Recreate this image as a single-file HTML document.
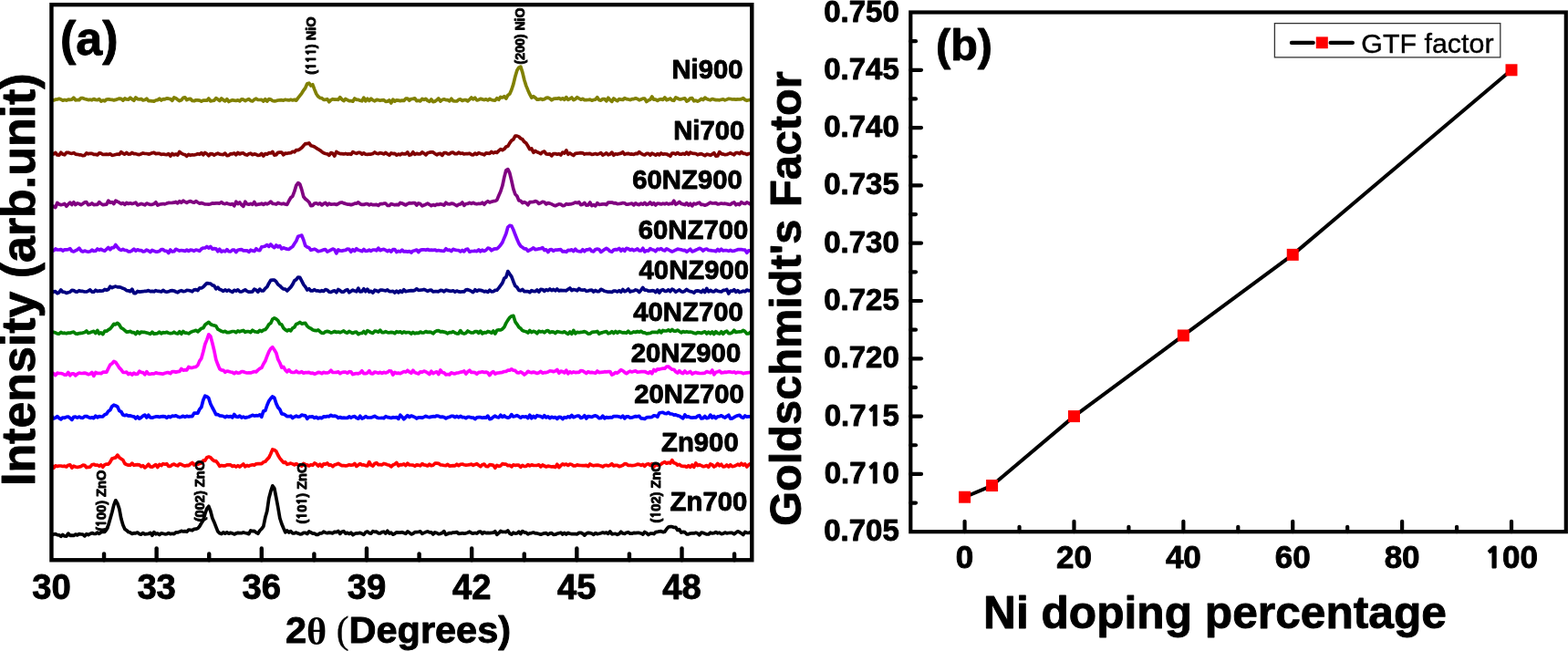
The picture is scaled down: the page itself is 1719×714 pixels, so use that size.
<!DOCTYPE html><html><head><meta charset="utf-8"><style>html,body{margin:0;padding:0;background:#fff;overflow:hidden;}svg{display:block;}text{font-family:"Liberation Sans",Arial,sans-serif;} text[font-weight=bold]{stroke:#000;stroke-width:0.9px;stroke-linejoin:round;}</style></head><body>
<svg width="1719" height="714" viewBox="0 0 1719 714">
<rect width="1719" height="714" fill="#fff"/>
<polyline fill="none" stroke="#808000" stroke-width="3.7" stroke-linejoin="round" stroke-linecap="round" points="56.8,109.3 58.8,110.0 60.8,109.2 62.8,109.0 64.8,108.3 66.8,109.0 68.8,110.2 70.8,109.5 72.8,110.1 74.8,109.2 76.8,109.3 78.8,109.1 80.8,107.2 82.8,109.8 84.8,109.5 86.8,109.6 88.8,107.5 90.8,107.6 92.8,108.5 94.8,108.9 96.8,109.6 98.8,109.2 100.8,109.8 102.8,108.5 104.8,109.5 106.8,109.6 108.8,108.6 110.8,111.1 112.8,110.0 114.8,110.8 116.8,109.0 118.8,108.8 120.8,109.1 122.8,109.3 124.8,109.9 126.8,109.4 128.8,108.7 130.8,108.1 132.8,108.4 134.8,110.1 136.8,108.0 138.8,109.0 140.8,109.1 142.8,107.2 144.8,108.9 146.8,110.2 148.8,107.0 150.8,108.7 152.8,109.0 154.8,108.4 156.8,109.9 158.8,109.5 160.8,108.2 162.8,110.6 164.8,110.6 166.8,110.8 168.8,111.2 170.8,110.0 172.8,109.7 174.8,108.1 176.8,110.0 178.8,108.7 180.8,108.8 182.8,107.9 184.8,108.2 186.8,108.6 188.8,110.3 190.8,107.0 192.8,107.7 194.8,109.4 196.8,110.6 198.8,109.8 200.8,107.3 202.8,106.8 204.8,109.7 206.8,108.7 208.8,108.4 210.8,110.5 212.8,110.7 214.8,109.8 216.8,109.9 218.8,110.1 220.8,111.2 222.8,110.2 224.8,110.1 226.8,110.2 228.8,108.0 230.8,110.9 232.8,110.5 234.8,110.1 236.8,107.6 238.8,109.0 240.8,110.5 242.8,107.9 244.8,109.6 246.8,110.9 248.8,108.6 250.8,111.5 252.8,110.4 254.8,109.7 256.8,110.1 258.8,110.4 260.8,109.8 262.8,110.8 264.8,108.9 266.8,109.2 268.8,110.6 270.8,109.5 272.8,108.6 274.8,110.4 276.8,111.0 278.8,109.1 280.8,108.2 282.8,109.5 284.8,109.5 286.8,109.4 288.8,111.1 290.8,108.7 292.8,111.1 294.8,108.6 296.8,109.1 298.8,110.5 300.8,110.9 302.8,110.6 304.8,110.0 306.8,109.8 308.8,109.7 310.8,110.1 312.8,109.3 314.8,109.7 316.8,110.0 318.8,109.3 320.8,109.9 322.8,109.3 324.8,110.2 326.8,107.4 328.8,104.9 330.8,102.3 332.8,99.1 334.8,96.3 336.8,91.8 338.8,91.2 340.8,94.0 342.8,92.8 344.8,98.1 346.8,103.0 348.8,105.8 350.8,107.4 352.8,107.7 354.8,109.4 356.8,109.3 358.8,108.7 360.8,111.7 362.8,109.6 364.8,108.7 366.8,109.1 368.8,109.0 370.8,109.3 372.8,106.7 374.8,109.0 376.8,110.6 378.8,108.5 380.8,109.7 382.8,110.7 384.8,110.6 386.8,111.2 388.8,108.0 390.8,109.3 392.8,109.3 394.8,110.3 396.8,110.8 398.8,107.1 400.8,110.8 402.8,108.3 404.8,110.5 406.8,108.3 408.8,109.9 410.8,110.8 412.8,109.4 414.8,109.7 416.8,110.3 418.8,109.8 420.8,109.7 422.8,111.4 424.8,111.1 426.8,109.9 428.8,113.0 430.8,109.1 432.8,111.1 434.8,109.8 436.8,110.1 438.8,110.6 440.8,110.1 442.8,110.4 444.8,108.2 446.8,108.1 448.8,110.2 450.8,108.5 452.8,108.4 454.8,107.9 456.8,110.7 458.8,110.2 460.8,110.9 462.8,108.5 464.8,109.4 466.8,108.4 468.8,110.4 470.8,111.4 472.8,109.0 474.8,111.6 476.8,111.1 478.8,109.8 480.8,107.9 482.8,111.1 484.8,109.4 486.8,108.8 488.8,109.6 490.8,109.7 492.8,110.8 494.8,108.3 496.8,110.6 498.8,111.0 500.8,111.0 502.8,109.3 504.8,108.8 506.8,110.5 508.8,109.6 510.8,109.6 512.8,110.9 514.8,109.1 516.8,107.0 518.8,108.9 520.8,107.3 522.8,110.0 524.8,109.4 526.8,108.4 528.8,108.9 530.8,109.6 532.8,108.8 534.8,109.9 536.8,108.4 538.8,109.5 540.8,110.0 542.8,110.1 544.8,107.8 546.8,109.3 548.8,106.4 550.8,107.0 552.8,105.7 554.8,108.1 556.8,104.4 558.8,103.0 560.8,98.5 562.8,92.4 564.8,84.0 566.8,77.2 568.8,74.1 570.8,73.1 572.8,79.4 574.8,87.8 576.8,94.1 578.8,98.9 580.8,103.4 582.8,107.2 584.8,105.6 586.8,107.2 588.8,109.1 590.8,109.1 592.8,108.4 594.8,109.3 596.8,108.7 598.8,107.4 600.8,107.1 602.8,108.1 604.8,109.8 606.8,108.4 608.8,108.1 610.8,108.2 612.8,107.5 614.8,108.9 616.8,107.8 618.8,109.4 620.8,106.6 622.8,109.3 624.8,108.3 626.8,107.0 628.8,109.7 630.8,108.6 632.8,106.7 634.8,108.0 636.8,109.2 638.8,108.4 640.8,109.7 642.8,109.6 644.8,109.5 646.8,109.2 648.8,110.2 650.8,109.5 652.8,109.2 654.8,106.7 656.8,109.7 658.8,110.1 660.8,108.6 662.8,108.5 664.8,110.9 666.8,107.3 668.8,109.6 670.8,111.4 672.8,108.0 674.8,109.5 676.8,110.7 678.8,108.6 680.8,109.2 682.8,109.5 684.8,107.7 686.8,108.6 688.8,109.0 690.8,109.6 692.8,108.7 694.8,108.6 696.8,107.8 698.8,108.5 700.8,109.8 702.8,109.0 704.8,108.1 706.8,108.1 708.8,111.5 710.8,109.9 712.8,109.3 714.8,106.0 716.8,109.2 718.8,109.1 720.8,110.3 722.8,109.1 724.8,108.7 726.8,109.4 728.8,106.9 730.8,109.8 732.8,109.1 734.8,108.0 736.8,109.9 738.8,110.3 740.8,107.0 742.8,107.8 744.8,108.9 746.8,108.8 748.8,108.3 750.8,107.8 752.8,111.0 754.8,110.0 756.8,107.8 758.8,107.7 760.8,110.8 762.8,110.2 764.8,111.1 766.8,110.1 768.8,108.4 770.8,109.5 772.8,107.1 774.8,108.5 776.8,109.2 778.8,109.8 780.8,108.5 782.8,109.1 784.8,109.6 786.8,109.5 788.8,109.8 790.8,109.3 792.8,108.8 794.8,109.9 796.8,109.1 798.8,108.3 800.8,108.5 802.8,109.0 804.8,108.9 806.8,109.1 808.8,108.9 810.8,109.0 812.8,108.6 814.8,107.7 816.8,109.5 818.8,110.3 820.8,109.8 822.8,109.4"/>
<polyline fill="none" stroke="#800000" stroke-width="3.7" stroke-linejoin="round" stroke-linecap="round" points="56.8,168.3 58.8,169.0 60.8,167.4 62.8,170.0 64.8,170.2 66.8,167.3 68.8,169.2 70.8,169.8 72.8,167.4 74.8,167.3 76.8,168.0 78.8,168.4 80.8,167.6 82.8,169.1 84.8,169.3 86.8,169.8 88.8,169.9 90.8,170.7 92.8,170.4 94.8,167.9 96.8,168.8 98.8,168.3 100.8,168.3 102.8,169.3 104.8,169.4 106.8,169.9 108.8,167.9 110.8,168.2 112.8,169.5 114.8,169.3 116.8,169.2 118.8,169.5 120.8,168.8 122.8,170.3 124.8,170.0 126.8,169.5 128.8,169.0 130.8,169.3 132.8,166.7 134.8,168.3 136.8,169.2 138.8,167.5 140.8,169.1 142.8,169.0 144.8,167.5 146.8,168.7 148.8,168.6 150.8,169.4 152.8,169.6 154.8,168.8 156.8,167.9 158.8,168.5 160.8,168.5 162.8,169.1 164.8,168.6 166.8,167.8 168.8,167.4 170.8,168.6 172.8,168.4 174.8,168.3 176.8,169.5 178.8,169.0 180.8,169.4 182.8,169.7 184.8,168.6 186.8,171.2 188.8,168.5 190.8,169.9 192.8,169.0 194.8,170.0 196.8,166.5 198.8,168.2 200.8,169.2 202.8,169.6 204.8,171.3 206.8,169.3 208.8,170.3 210.8,169.8 212.8,170.0 214.8,169.5 216.8,168.7 218.8,169.3 220.8,167.6 222.8,169.8 224.8,167.5 226.8,168.8 228.8,170.8 230.8,168.5 232.8,168.9 234.8,170.1 236.8,169.0 238.8,168.2 240.8,169.2 242.8,169.5 244.8,169.6 246.8,168.1 248.8,170.6 250.8,170.4 252.8,168.7 254.8,168.8 256.8,168.0 258.8,169.8 260.8,167.5 262.8,169.0 264.8,168.0 266.8,167.9 268.8,169.4 270.8,170.1 272.8,168.8 274.8,168.2 276.8,169.7 278.8,168.9 280.8,169.3 282.8,170.5 284.8,170.2 286.8,168.4 288.8,171.0 290.8,168.6 292.8,169.2 294.8,167.6 296.8,168.0 298.8,166.4 300.8,170.1 302.8,169.7 304.8,167.3 306.8,167.1 308.8,167.1 310.8,169.8 312.8,168.0 314.8,168.3 316.8,167.8 318.8,167.7 320.8,166.3 322.8,166.8 324.8,164.5 326.8,164.7 328.8,163.6 330.8,162.1 332.8,159.7 334.8,157.5 336.8,157.6 338.8,156.9 340.8,159.7 342.8,160.2 344.8,161.0 346.8,162.4 348.8,163.7 350.8,164.8 352.8,166.4 354.8,167.8 356.8,168.5 358.8,168.8 360.8,170.4 362.8,167.6 364.8,168.3 366.8,171.1 368.8,166.4 370.8,167.8 372.8,168.6 374.8,168.6 376.8,169.0 378.8,168.4 380.8,169.1 382.8,168.7 384.8,169.3 386.8,166.6 388.8,167.6 390.8,168.4 392.8,167.3 394.8,167.3 396.8,169.1 398.8,167.8 400.8,169.2 402.8,169.4 404.8,169.0 406.8,169.1 408.8,168.4 410.8,167.0 412.8,168.3 414.8,168.7 416.8,167.7 418.8,168.1 420.8,169.0 422.8,167.4 424.8,169.0 426.8,170.2 428.8,167.9 430.8,168.6 432.8,168.4 434.8,170.2 436.8,169.1 438.8,169.8 440.8,168.3 442.8,168.9 444.8,168.8 446.8,167.0 448.8,170.2 450.8,169.6 452.8,166.8 454.8,169.3 456.8,168.4 458.8,168.9 460.8,168.8 462.8,166.9 464.8,168.2 466.8,169.9 468.8,167.7 470.8,167.2 472.8,166.9 474.8,166.9 476.8,168.4 478.8,169.8 480.8,168.6 482.8,168.4 484.8,170.4 486.8,167.7 488.8,167.5 490.8,168.8 492.8,168.8 494.8,167.3 496.8,167.2 498.8,168.7 500.8,168.7 502.8,167.2 504.8,168.3 506.8,168.0 508.8,169.0 510.8,168.5 512.8,168.6 514.8,168.2 516.8,169.6 518.8,169.9 520.8,168.1 522.8,169.3 524.8,167.6 526.8,168.4 528.8,169.1 530.8,169.8 532.8,167.9 534.8,168.1 536.8,168.3 538.8,166.5 540.8,167.8 542.8,166.8 544.8,167.4 546.8,165.4 548.8,163.7 550.8,164.7 552.8,163.5 554.8,161.0 556.8,160.3 558.8,156.8 560.8,154.1 562.8,152.9 564.8,149.1 566.8,149.1 568.8,149.9 570.8,151.9 572.8,152.8 574.8,155.6 576.8,157.1 578.8,160.3 580.8,163.7 582.8,163.0 584.8,167.3 586.8,165.4 588.8,166.8 590.8,167.5 592.8,168.7 594.8,166.7 596.8,166.1 598.8,168.9 600.8,169.1 602.8,168.9 604.8,170.9 606.8,168.5 608.8,168.6 610.8,169.3 612.8,168.7 614.8,170.0 616.8,167.1 618.8,168.0 620.8,164.9 622.8,169.2 624.8,168.0 626.8,169.3 628.8,170.5 630.8,168.3 632.8,168.1 634.8,167.9 636.8,167.6 638.8,167.8 640.8,169.1 642.8,168.5 644.8,168.6 646.8,168.4 648.8,169.5 650.8,169.1 652.8,168.5 654.8,169.4 656.8,168.6 658.8,167.6 660.8,170.2 662.8,169.2 664.8,167.8 666.8,169.8 668.8,169.1 670.8,167.1 672.8,170.2 674.8,168.8 676.8,169.3 678.8,168.6 680.8,168.1 682.8,166.8 684.8,169.4 686.8,168.6 688.8,168.3 690.8,169.1 692.8,168.9 694.8,169.5 696.8,168.4 698.8,168.7 700.8,166.6 702.8,168.3 704.8,169.4 706.8,170.0 708.8,168.3 710.8,168.4 712.8,170.1 714.8,168.1 716.8,169.1 718.8,170.2 720.8,168.6 722.8,169.9 724.8,168.0 726.8,169.1 728.8,168.9 730.8,169.0 732.8,170.0 734.8,171.2 736.8,168.1 738.8,168.1 740.8,169.1 742.8,167.6 744.8,169.1 746.8,169.2 748.8,168.4 750.8,169.2 752.8,167.1 754.8,169.4 756.8,167.2 758.8,168.1 760.8,168.3 762.8,168.5 764.8,169.8 766.8,169.1 768.8,168.6 770.8,169.6 772.8,170.7 774.8,169.1 776.8,169.5 778.8,170.3 780.8,169.2 782.8,167.6 784.8,171.2 786.8,170.9 788.8,166.6 790.8,168.6 792.8,169.1 794.8,169.7 796.8,169.5 798.8,168.6 800.8,167.8 802.8,168.9 804.8,169.8 806.8,167.6 808.8,167.6 810.8,168.6 812.8,166.6 814.8,168.4 816.8,168.4 818.8,169.5 820.8,168.5 822.8,168.4"/>
<polyline fill="none" stroke="#800080" stroke-width="3.7" stroke-linejoin="round" stroke-linecap="round" points="56.8,225.5 58.8,226.5 60.8,227.5 62.8,222.4 64.8,224.0 66.8,224.7 68.8,224.2 70.8,223.5 72.8,226.2 74.8,224.0 76.8,222.1 78.8,224.5 80.8,221.8 82.8,224.6 84.8,222.9 86.8,223.6 88.8,224.7 90.8,223.5 92.8,221.9 94.8,221.7 96.8,224.7 98.8,224.3 100.8,222.9 102.8,224.6 104.8,224.4 106.8,224.5 108.8,221.6 110.8,223.5 112.8,224.6 114.8,224.3 116.8,224.1 118.8,220.1 120.8,222.1 122.8,221.7 124.8,223.5 126.8,220.1 128.8,221.2 130.8,222.2 132.8,223.6 134.8,222.6 136.8,224.3 138.8,222.5 140.8,223.5 142.8,222.8 144.8,223.6 146.8,222.9 148.8,222.1 150.8,224.9 152.8,224.2 154.8,223.4 156.8,224.1 158.8,224.9 160.8,223.0 162.8,223.8 164.8,224.5 166.8,224.4 168.8,223.6 170.8,221.8 172.8,225.1 174.8,224.2 176.8,223.8 178.8,223.5 180.8,223.9 182.8,223.1 184.8,222.4 186.8,222.5 188.8,222.4 190.8,222.2 192.8,221.4 194.8,222.9 196.8,220.6 198.8,222.2 200.8,220.2 202.8,221.3 204.8,222.3 206.8,221.2 208.8,220.5 210.8,221.7 212.8,222.2 214.8,220.6 216.8,222.0 218.8,223.1 220.8,222.6 222.8,223.3 224.8,224.0 226.8,224.0 228.8,224.2 230.8,223.8 232.8,222.9 234.8,223.1 236.8,222.8 238.8,222.9 240.8,223.1 242.8,221.7 244.8,223.2 246.8,223.6 248.8,222.8 250.8,223.8 252.8,224.3 254.8,223.6 256.8,225.9 258.8,221.2 260.8,223.6 262.8,222.0 264.8,224.7 266.8,226.4 268.8,221.2 270.8,223.8 272.8,224.2 274.8,223.4 276.8,224.3 278.8,221.5 280.8,224.7 282.8,224.2 284.8,223.9 286.8,223.2 288.8,224.4 290.8,223.1 292.8,223.8 294.8,222.9 296.8,221.1 298.8,223.3 300.8,223.5 302.8,224.1 304.8,222.4 306.8,223.2 308.8,223.8 310.8,223.2 312.8,224.0 314.8,224.3 316.8,220.2 318.8,216.8 320.8,215.2 322.8,209.9 324.8,203.3 326.8,200.6 328.8,202.1 330.8,208.1 332.8,215.8 334.8,218.2 336.8,219.7 338.8,221.7 340.8,225.7 342.8,225.4 344.8,223.0 346.8,222.9 348.8,223.9 350.8,222.9 352.8,224.9 354.8,223.4 356.8,222.4 358.8,224.9 360.8,223.1 362.8,224.1 364.8,224.0 366.8,223.8 368.8,224.5 370.8,223.5 372.8,222.3 374.8,222.0 376.8,222.9 378.8,223.4 380.8,224.1 382.8,224.1 384.8,224.6 386.8,224.1 388.8,223.2 390.8,223.2 392.8,221.8 394.8,223.7 396.8,224.4 398.8,224.4 400.8,223.7 402.8,223.7 404.8,224.8 406.8,223.9 408.8,224.7 410.8,224.6 412.8,224.3 414.8,225.4 416.8,223.6 418.8,223.7 420.8,223.2 422.8,223.1 424.8,225.4 426.8,225.5 428.8,223.6 430.8,224.2 432.8,224.8 434.8,224.4 436.8,224.8 438.8,222.4 440.8,223.0 442.8,224.0 444.8,225.0 446.8,223.6 448.8,222.6 450.8,223.0 452.8,222.7 454.8,222.5 456.8,225.0 458.8,222.9 460.8,223.6 462.8,225.9 464.8,225.0 466.8,224.2 468.8,223.2 470.8,224.3 472.8,225.6 474.8,224.6 476.8,225.3 478.8,224.1 480.8,224.4 482.8,223.7 484.8,224.3 486.8,225.1 488.8,222.3 490.8,223.7 492.8,224.0 494.8,223.1 496.8,223.4 498.8,224.5 500.8,225.7 502.8,224.3 504.8,223.9 506.8,222.0 508.8,225.4 510.8,223.5 512.8,223.4 514.8,222.3 516.8,223.3 518.8,222.3 520.8,223.4 522.8,223.8 524.8,223.3 526.8,223.5 528.8,222.2 530.8,224.3 532.8,222.0 534.8,220.7 536.8,222.0 538.8,221.3 540.8,220.7 542.8,220.5 544.8,219.4 546.8,214.5 548.8,210.0 550.8,203.8 552.8,194.4 554.8,186.8 556.8,185.6 558.8,189.9 560.8,198.1 562.8,207.2 564.8,213.0 566.8,215.0 568.8,219.9 570.8,220.3 572.8,222.5 574.8,221.6 576.8,222.6 578.8,224.8 580.8,221.7 582.8,221.7 584.8,221.5 586.8,220.6 588.8,221.2 590.8,223.4 592.8,222.5 594.8,221.3 596.8,221.7 598.8,223.9 600.8,222.6 602.8,223.1 604.8,223.9 606.8,225.0 608.8,225.7 610.8,224.8 612.8,223.9 614.8,224.0 616.8,225.6 618.8,225.3 620.8,223.6 622.8,224.2 624.8,223.9 626.8,223.6 628.8,222.9 630.8,222.0 632.8,222.6 634.8,221.7 636.8,224.6 638.8,224.1 640.8,222.4 642.8,225.1 644.8,224.8 646.8,222.0 648.8,225.7 650.8,224.7 652.8,225.9 654.8,222.6 656.8,224.4 658.8,224.2 660.8,223.9 662.8,223.8 664.8,224.6 666.8,222.0 668.8,222.2 670.8,222.0 672.8,222.8 674.8,222.7 676.8,223.6 678.8,223.5 680.8,223.2 682.8,222.5 684.8,222.8 686.8,224.2 688.8,224.1 690.8,223.5 692.8,223.1 694.8,224.9 696.8,222.8 698.8,224.1 700.8,224.6 702.8,223.1 704.8,224.2 706.8,222.4 708.8,224.5 710.8,223.8 712.8,222.0 714.8,224.3 716.8,222.8 718.8,225.0 720.8,223.0 722.8,223.4 724.8,223.9 726.8,223.2 728.8,223.8 730.8,222.9 732.8,224.0 734.8,223.3 736.8,223.4 738.8,220.3 740.8,224.2 742.8,223.1 744.8,221.4 746.8,223.4 748.8,223.9 750.8,224.6 752.8,222.6 754.8,225.1 756.8,223.3 758.8,225.8 760.8,223.2 762.8,223.9 764.8,222.8 766.8,222.2 768.8,224.5 770.8,224.4 772.8,225.2 774.8,224.6 776.8,223.3 778.8,222.1 780.8,223.0 782.8,222.9 784.8,222.6 786.8,223.9 788.8,223.6 790.8,223.0 792.8,223.5 794.8,223.2 796.8,223.6 798.8,224.1 800.8,224.3 802.8,222.7 804.8,221.9 806.8,224.8 808.8,223.5 810.8,224.5 812.8,221.7 814.8,223.0 816.8,223.4 818.8,221.9 820.8,222.9 822.8,224.1"/>
<polyline fill="none" stroke="#8000ff" stroke-width="3.7" stroke-linejoin="round" stroke-linecap="round" points="56.8,275.1 58.8,274.9 60.8,273.0 62.8,274.0 64.8,274.0 66.8,273.6 68.8,275.1 70.8,273.9 72.8,273.9 74.8,273.6 76.8,272.6 78.8,275.3 80.8,276.0 82.8,274.9 84.8,273.8 86.8,272.1 88.8,275.0 90.8,276.0 92.8,275.1 94.8,275.7 96.8,276.2 98.8,275.8 100.8,274.1 102.8,275.5 104.8,275.2 106.8,273.0 108.8,274.2 110.8,273.3 112.8,274.6 114.8,275.2 116.8,273.3 118.8,271.5 120.8,273.7 122.8,271.6 124.8,271.6 126.8,268.5 128.8,271.3 130.8,273.4 132.8,274.5 134.8,273.3 136.8,274.5 138.8,274.5 140.8,275.9 142.8,275.8 144.8,274.8 146.8,273.2 148.8,275.1 150.8,273.8 152.8,274.7 154.8,274.5 156.8,276.0 158.8,275.6 160.8,274.1 162.8,275.1 164.8,276.6 166.8,274.3 168.8,275.3 170.8,276.1 172.8,276.1 174.8,275.4 176.8,273.6 178.8,273.7 180.8,275.2 182.8,275.3 184.8,277.5 186.8,274.0 188.8,276.0 190.8,275.7 192.8,273.3 194.8,274.1 196.8,275.1 198.8,274.5 200.8,274.8 202.8,275.4 204.8,274.1 206.8,275.4 208.8,274.2 210.8,274.3 212.8,275.3 214.8,274.0 216.8,274.5 218.8,275.3 220.8,273.0 222.8,272.0 224.8,272.0 226.8,270.5 228.8,272.1 230.8,270.4 232.8,273.1 234.8,272.6 236.8,272.8 238.8,275.7 240.8,273.3 242.8,276.1 244.8,275.1 246.8,275.9 248.8,273.6 250.8,275.7 252.8,275.9 254.8,274.2 256.8,274.1 258.8,276.6 260.8,274.2 262.8,273.8 264.8,273.7 266.8,274.9 268.8,274.9 270.8,274.8 272.8,276.4 274.8,274.2 276.8,274.9 278.8,275.6 280.8,272.8 282.8,274.4 284.8,274.7 286.8,270.9 288.8,270.5 290.8,269.9 292.8,268.6 294.8,270.4 296.8,267.9 298.8,270.3 300.8,271.6 302.8,268.9 304.8,270.8 306.8,269.7 308.8,272.9 310.8,271.8 312.8,272.6 314.8,273.1 316.8,273.4 318.8,271.8 320.8,270.5 322.8,267.2 324.8,264.2 326.8,259.3 328.8,258.7 330.8,258.1 332.8,263.2 334.8,269.6 336.8,271.0 338.8,271.7 340.8,274.3 342.8,273.7 344.8,273.2 346.8,274.2 348.8,275.7 350.8,275.3 352.8,274.8 354.8,273.9 356.8,273.7 358.8,276.2 360.8,275.2 362.8,274.1 364.8,273.0 366.8,273.9 368.8,277.8 370.8,274.0 372.8,275.0 374.8,275.1 376.8,274.6 378.8,274.4 380.8,273.1 382.8,273.4 384.8,276.2 386.8,273.7 388.8,275.3 390.8,272.7 392.8,274.2 394.8,274.8 396.8,275.6 398.8,273.5 400.8,275.3 402.8,275.2 404.8,274.1 406.8,275.3 408.8,274.0 410.8,274.0 412.8,274.8 414.8,272.1 416.8,274.7 418.8,273.8 420.8,273.4 422.8,274.4 424.8,275.6 426.8,274.4 428.8,276.1 430.8,273.7 432.8,273.6 434.8,276.5 436.8,275.4 438.8,276.0 440.8,274.2 442.8,276.0 444.8,275.6 446.8,276.1 448.8,275.6 450.8,277.0 452.8,275.2 454.8,274.7 456.8,274.0 458.8,276.5 460.8,274.4 462.8,273.9 464.8,273.8 466.8,274.3 468.8,273.5 470.8,274.5 472.8,274.2 474.8,274.3 476.8,274.0 478.8,275.0 480.8,274.5 482.8,275.0 484.8,275.2 486.8,275.3 488.8,272.8 490.8,274.4 492.8,274.1 494.8,275.6 496.8,273.3 498.8,274.1 500.8,274.5 502.8,274.5 504.8,275.9 506.8,274.5 508.8,275.9 510.8,273.5 512.8,273.2 514.8,276.2 516.8,275.5 518.8,275.5 520.8,275.2 522.8,275.6 524.8,273.9 526.8,275.8 528.8,274.2 530.8,275.5 532.8,274.4 534.8,272.1 536.8,272.5 538.8,274.8 540.8,273.4 542.8,272.9 544.8,272.9 546.8,271.1 548.8,268.8 550.8,265.9 552.8,260.9 554.8,256.3 556.8,249.1 558.8,247.4 560.8,247.8 562.8,252.0 564.8,257.3 566.8,262.2 568.8,266.9 570.8,269.9 572.8,271.3 574.8,272.9 576.8,272.8 578.8,275.3 580.8,274.2 582.8,273.3 584.8,271.8 586.8,273.7 588.8,273.4 590.8,272.8 592.8,272.7 594.8,271.6 596.8,274.5 598.8,273.8 600.8,276.5 602.8,273.9 604.8,273.7 606.8,275.3 608.8,274.0 610.8,274.1 612.8,273.8 614.8,273.7 616.8,275.9 618.8,275.6 620.8,276.4 622.8,274.3 624.8,274.7 626.8,273.8 628.8,275.6 630.8,273.2 632.8,275.2 634.8,275.7 636.8,276.0 638.8,273.7 640.8,275.7 642.8,273.9 644.8,273.8 646.8,273.1 648.8,275.5 650.8,275.8 652.8,273.5 654.8,273.2 656.8,273.5 658.8,276.4 660.8,275.0 662.8,273.6 664.8,272.4 666.8,273.6 668.8,275.6 670.8,276.2 672.8,274.1 674.8,273.6 676.8,273.8 678.8,272.4 680.8,275.2 682.8,273.1 684.8,275.3 686.8,272.4 688.8,272.8 690.8,274.4 692.8,273.3 694.8,274.8 696.8,274.1 698.8,272.9 700.8,274.8 702.8,275.0 704.8,272.3 706.8,276.1 708.8,274.8 710.8,275.2 712.8,272.6 714.8,273.8 716.8,274.3 718.8,275.7 720.8,273.1 722.8,273.7 724.8,272.6 726.8,274.3 728.8,274.9 730.8,272.8 732.8,273.9 734.8,275.0 736.8,276.0 738.8,275.1 740.8,274.1 742.8,273.2 744.8,273.5 746.8,273.8 748.8,274.6 750.8,274.4 752.8,276.2 754.8,274.7 756.8,273.3 758.8,275.9 760.8,275.2 762.8,274.3 764.8,273.4 766.8,272.3 768.8,273.2 770.8,275.1 772.8,273.5 774.8,273.0 776.8,274.5 778.8,274.6 780.8,274.9 782.8,275.0 784.8,275.7 786.8,273.4 788.8,275.3 790.8,273.3 792.8,275.0 794.8,274.5 796.8,274.6 798.8,275.4 800.8,274.4 802.8,275.5 804.8,275.2 806.8,274.4 808.8,273.7 810.8,273.5 812.8,273.7 814.8,274.0 816.8,274.2 818.8,277.2 820.8,274.8 822.8,274.9"/>
<polyline fill="none" stroke="#000080" stroke-width="3.7" stroke-linejoin="round" stroke-linecap="round" points="56.8,321.4 58.8,319.8 60.8,319.7 62.8,321.7 64.8,320.8 66.8,317.9 68.8,320.2 70.8,320.4 72.8,321.4 74.8,320.8 76.8,320.3 78.8,318.3 80.8,318.6 82.8,319.8 84.8,320.1 86.8,318.7 88.8,319.4 90.8,319.4 92.8,320.0 94.8,320.0 96.8,319.1 98.8,317.9 100.8,320.1 102.8,320.2 104.8,318.2 106.8,319.5 108.8,318.9 110.8,319.2 112.8,318.9 114.8,317.4 116.8,318.2 118.8,317.5 120.8,314.3 122.8,315.7 124.8,314.7 126.8,314.1 128.8,314.9 130.8,314.9 132.8,315.3 134.8,316.3 136.8,317.0 138.8,318.6 140.8,318.8 142.8,319.7 144.8,317.1 146.8,321.6 148.8,321.6 150.8,319.4 152.8,320.1 154.8,319.9 156.8,319.7 158.8,319.3 160.8,319.3 162.8,318.6 164.8,319.6 166.8,319.4 168.8,319.8 170.8,318.6 172.8,319.4 174.8,319.4 176.8,320.0 178.8,318.3 180.8,319.7 182.8,320.2 184.8,319.8 186.8,318.8 188.8,318.7 190.8,319.0 192.8,320.0 194.8,320.8 196.8,319.2 198.8,318.7 200.8,319.7 202.8,319.5 204.8,318.4 206.8,318.5 208.8,319.1 210.8,319.8 212.8,317.8 214.8,317.6 216.8,318.5 218.8,315.9 220.8,316.0 222.8,314.7 224.8,312.6 226.8,310.5 228.8,310.9 230.8,311.0 232.8,312.9 234.8,313.3 236.8,316.8 238.8,315.1 240.8,317.5 242.8,318.1 244.8,319.3 246.8,317.9 248.8,319.1 250.8,318.0 252.8,319.4 254.8,320.4 256.8,318.3 258.8,319.1 260.8,317.8 262.8,319.8 264.8,320.0 266.8,318.9 268.8,317.8 270.8,319.4 272.8,320.2 274.8,320.1 276.8,319.8 278.8,317.1 280.8,318.1 282.8,320.1 284.8,317.1 286.8,319.0 288.8,318.8 290.8,316.3 292.8,314.6 294.8,310.7 296.8,307.4 298.8,307.1 300.8,307.1 302.8,308.9 304.8,312.0 306.8,313.4 308.8,315.5 310.8,317.0 312.8,317.1 314.8,319.0 316.8,316.9 318.8,314.9 320.8,311.9 322.8,307.9 324.8,306.6 326.8,304.0 328.8,304.3 330.8,308.1 332.8,312.1 334.8,314.6 336.8,318.0 338.8,316.7 340.8,318.9 342.8,318.8 344.8,317.7 346.8,319.0 348.8,318.9 350.8,319.6 352.8,318.7 354.8,319.5 356.8,317.5 358.8,318.2 360.8,320.1 362.8,320.4 364.8,319.4 366.8,318.9 368.8,320.7 370.8,317.5 372.8,318.7 374.8,320.2 376.8,320.1 378.8,318.4 380.8,317.6 382.8,320.8 384.8,319.4 386.8,318.2 388.8,319.1 390.8,319.8 392.8,316.2 394.8,320.0 396.8,319.6 398.8,316.8 400.8,319.7 402.8,317.1 404.8,320.1 406.8,319.3 408.8,321.1 410.8,318.2 412.8,318.8 414.8,319.9 416.8,318.1 418.8,318.1 420.8,318.5 422.8,318.9 424.8,317.9 426.8,319.6 428.8,319.7 430.8,319.3 432.8,321.0 434.8,319.1 436.8,320.8 438.8,319.0 440.8,320.4 442.8,317.7 444.8,319.7 446.8,319.3 448.8,318.9 450.8,318.7 452.8,318.9 454.8,318.4 456.8,316.8 458.8,318.3 460.8,318.2 462.8,318.0 464.8,317.4 466.8,318.3 468.8,319.3 470.8,318.3 472.8,318.1 474.8,320.0 476.8,319.7 478.8,319.6 480.8,319.8 482.8,318.4 484.8,318.6 486.8,319.8 488.8,318.1 490.8,318.6 492.8,319.2 494.8,319.3 496.8,318.8 498.8,320.1 500.8,319.0 502.8,319.9 504.8,320.2 506.8,319.8 508.8,319.8 510.8,317.9 512.8,317.7 514.8,318.4 516.8,319.5 518.8,320.5 520.8,317.8 522.8,319.3 524.8,318.2 526.8,318.4 528.8,318.9 530.8,319.9 532.8,319.4 534.8,320.4 536.8,318.2 538.8,319.9 540.8,319.7 542.8,318.4 544.8,318.2 546.8,315.9 548.8,313.2 550.8,310.4 552.8,305.3 554.8,303.9 556.8,297.6 558.8,300.6 560.8,303.4 562.8,308.7 564.8,313.6 566.8,315.0 568.8,318.4 570.8,318.8 572.8,317.4 574.8,319.7 576.8,319.6 578.8,319.5 580.8,320.7 582.8,318.6 584.8,319.5 586.8,319.7 588.8,318.0 590.8,320.1 592.8,317.4 594.8,317.5 596.8,319.3 598.8,317.6 600.8,318.6 602.8,317.0 604.8,318.6 606.8,317.4 608.8,318.8 610.8,317.0 612.8,319.0 614.8,318.3 616.8,318.6 618.8,318.5 620.8,318.8 622.8,317.3 624.8,316.0 626.8,318.5 628.8,317.5 630.8,318.0 632.8,318.8 634.8,316.5 636.8,317.9 638.8,318.2 640.8,317.8 642.8,319.3 644.8,319.0 646.8,318.3 648.8,318.2 650.8,320.0 652.8,318.5 654.8,319.7 656.8,319.6 658.8,317.3 660.8,318.2 662.8,319.3 664.8,319.7 666.8,320.2 668.8,320.2 670.8,320.4 672.8,319.0 674.8,319.1 676.8,320.0 678.8,318.7 680.8,320.2 682.8,317.5 684.8,319.7 686.8,318.9 688.8,317.0 690.8,320.0 692.8,319.3 694.8,319.0 696.8,317.9 698.8,318.5 700.8,320.5 702.8,318.1 704.8,315.5 706.8,318.2 708.8,318.0 710.8,319.2 712.8,319.1 714.8,318.7 716.8,318.9 718.8,320.6 720.8,317.9 722.8,321.1 724.8,318.5 726.8,317.7 728.8,319.4 730.8,319.3 732.8,317.8 734.8,319.7 736.8,317.2 738.8,318.2 740.8,320.3 742.8,319.0 744.8,317.9 746.8,319.7 748.8,320.1 750.8,319.2 752.8,317.4 754.8,318.9 756.8,319.7 758.8,320.0 760.8,321.2 762.8,319.1 764.8,318.9 766.8,319.3 768.8,320.5 770.8,318.3 772.8,320.5 774.8,316.4 776.8,319.9 778.8,318.4 780.8,319.6 782.8,319.9 784.8,318.1 786.8,319.2 788.8,319.6 790.8,319.9 792.8,318.4 794.8,318.4 796.8,317.5 798.8,322.0 800.8,319.2 802.8,319.2 804.8,317.8 806.8,320.2 808.8,318.7 810.8,320.6 812.8,320.0 814.8,319.2 816.8,319.8 818.8,318.0 820.8,318.8 822.8,318.5"/>
<polyline fill="none" stroke="#008000" stroke-width="3.7" stroke-linejoin="round" stroke-linecap="round" points="56.8,364.4 58.8,364.3 60.8,364.9 62.8,366.0 64.8,366.1 66.8,364.4 68.8,365.5 70.8,365.2 72.8,365.7 74.8,365.0 76.8,365.2 78.8,364.5 80.8,364.2 82.8,365.9 84.8,366.3 86.8,365.6 88.8,365.3 90.8,365.1 92.8,364.4 94.8,363.0 96.8,365.3 98.8,364.7 100.8,363.9 102.8,363.3 104.8,365.5 106.8,362.4 108.8,366.0 110.8,364.8 112.8,366.5 114.8,363.1 116.8,363.2 118.8,361.7 120.8,360.6 122.8,358.1 124.8,355.4 126.8,355.9 128.8,354.3 130.8,356.2 132.8,359.6 134.8,360.6 136.8,362.3 138.8,364.1 140.8,363.9 142.8,363.3 144.8,364.6 146.8,364.5 148.8,366.5 150.8,363.7 152.8,365.8 154.8,364.0 156.8,364.4 158.8,364.4 160.8,365.0 162.8,365.6 164.8,366.4 166.8,364.1 168.8,366.1 170.8,365.8 172.8,365.6 174.8,364.1 176.8,365.8 178.8,364.7 180.8,365.0 182.8,364.3 184.8,365.2 186.8,365.6 188.8,365.5 190.8,364.2 192.8,365.5 194.8,366.0 196.8,363.7 198.8,366.2 200.8,363.5 202.8,365.2 204.8,365.1 206.8,365.9 208.8,364.5 210.8,363.6 212.8,363.0 214.8,362.3 216.8,363.8 218.8,362.0 220.8,360.2 222.8,359.7 224.8,356.3 226.8,354.7 228.8,353.4 230.8,355.5 232.8,356.5 234.8,356.9 236.8,357.6 238.8,361.2 240.8,362.2 242.8,363.3 244.8,364.0 246.8,363.3 248.8,364.6 250.8,364.6 252.8,364.1 254.8,363.5 256.8,363.5 258.8,364.7 260.8,362.9 262.8,363.8 264.8,363.1 266.8,362.4 268.8,364.3 270.8,363.6 272.8,363.6 274.8,364.5 276.8,362.2 278.8,363.6 280.8,364.0 282.8,364.4 284.8,362.3 286.8,363.5 288.8,362.0 290.8,361.5 292.8,359.1 294.8,355.7 296.8,354.4 298.8,350.0 300.8,348.8 302.8,349.9 304.8,351.6 306.8,355.3 308.8,356.0 310.8,359.9 312.8,361.7 314.8,362.9 316.8,361.6 318.8,362.8 320.8,359.8 322.8,358.8 324.8,355.4 326.8,354.8 328.8,353.4 330.8,355.1 332.8,354.6 334.8,354.4 336.8,357.7 338.8,359.4 340.8,360.3 342.8,361.8 344.8,362.4 346.8,362.7 348.8,361.9 350.8,363.7 352.8,365.2 354.8,365.4 356.8,363.8 358.8,363.4 360.8,363.9 362.8,365.0 364.8,364.4 366.8,363.5 368.8,364.5 370.8,364.0 372.8,364.7 374.8,363.9 376.8,362.9 378.8,364.5 380.8,365.2 382.8,363.4 384.8,364.5 386.8,365.5 388.8,364.3 390.8,364.1 392.8,366.7 394.8,365.5 396.8,365.5 398.8,363.5 400.8,365.9 402.8,362.6 404.8,363.6 406.8,364.8 408.8,365.4 410.8,363.1 412.8,363.4 414.8,364.2 416.8,362.1 418.8,364.6 420.8,364.6 422.8,363.6 424.8,364.6 426.8,364.8 428.8,364.4 430.8,364.6 432.8,365.6 434.8,363.7 436.8,364.4 438.8,363.8 440.8,365.3 442.8,363.9 444.8,364.8 446.8,364.5 448.8,364.5 450.8,366.1 452.8,364.4 454.8,365.8 456.8,365.1 458.8,365.5 460.8,364.0 462.8,365.0 464.8,364.8 466.8,363.5 468.8,364.5 470.8,364.2 472.8,364.4 474.8,365.8 476.8,363.9 478.8,362.9 480.8,362.7 482.8,363.9 484.8,363.6 486.8,364.1 488.8,364.6 490.8,365.8 492.8,364.5 494.8,364.7 496.8,363.7 498.8,365.0 500.8,365.9 502.8,365.8 504.8,362.6 506.8,365.3 508.8,366.0 510.8,365.2 512.8,363.0 514.8,364.1 516.8,365.0 518.8,364.8 520.8,363.6 522.8,363.5 524.8,365.3 526.8,363.1 528.8,365.9 530.8,364.6 532.8,364.9 534.8,363.4 536.8,364.1 538.8,365.2 540.8,362.9 542.8,366.0 544.8,362.3 546.8,361.8 548.8,362.0 550.8,360.8 552.8,358.7 554.8,354.4 556.8,351.1 558.8,348.2 560.8,346.8 562.8,346.3 564.8,352.8 566.8,355.6 568.8,358.7 570.8,360.3 572.8,362.6 574.8,363.3 576.8,363.7 578.8,365.1 580.8,362.5 582.8,364.5 584.8,363.3 586.8,364.0 588.8,365.7 590.8,363.1 592.8,364.0 594.8,363.4 596.8,364.8 598.8,363.1 600.8,362.5 602.8,364.7 604.8,363.9 606.8,364.1 608.8,365.5 610.8,363.6 612.8,364.0 614.8,364.5 616.8,364.7 618.8,363.8 620.8,365.2 622.8,366.4 624.8,364.0 626.8,366.2 628.8,362.5 630.8,365.9 632.8,364.3 634.8,364.8 636.8,364.4 638.8,364.1 640.8,363.6 642.8,364.5 644.8,366.1 646.8,365.9 648.8,364.4 650.8,364.2 652.8,364.0 654.8,363.4 656.8,366.2 658.8,365.1 660.8,364.6 662.8,364.0 664.8,363.5 666.8,365.8 668.8,365.2 670.8,363.6 672.8,365.5 674.8,363.5 676.8,365.2 678.8,363.6 680.8,364.2 682.8,364.9 684.8,364.7 686.8,365.1 688.8,363.2 690.8,365.3 692.8,365.0 694.8,363.9 696.8,364.5 698.8,363.5 700.8,364.2 702.8,363.3 704.8,364.8 706.8,364.9 708.8,366.0 710.8,365.6 712.8,365.5 714.8,364.3 716.8,364.4 718.8,364.3 720.8,364.7 722.8,362.5 724.8,364.9 726.8,362.4 728.8,363.0 730.8,362.9 732.8,361.8 734.8,363.4 736.8,361.5 738.8,363.2 740.8,363.2 742.8,362.1 744.8,363.5 746.8,364.8 748.8,363.6 750.8,364.2 752.8,363.7 754.8,364.3 756.8,364.0 758.8,364.5 760.8,365.4 762.8,365.8 764.8,364.7 766.8,364.8 768.8,365.5 770.8,364.5 772.8,363.8 774.8,366.0 776.8,364.1 778.8,365.8 780.8,363.9 782.8,366.5 784.8,363.7 786.8,365.5 788.8,366.1 790.8,363.8 792.8,366.2 794.8,364.0 796.8,363.2 798.8,365.7 800.8,365.7 802.8,364.7 804.8,362.3 806.8,364.4 808.8,364.0 810.8,363.8 812.8,363.7 814.8,362.3 816.8,363.6 818.8,366.0 820.8,365.8 822.8,364.1"/>
<polyline fill="none" stroke="#ff00ff" stroke-width="3.7" stroke-linejoin="round" stroke-linecap="round" points="56.8,408.7 58.8,409.7 60.8,411.6 62.8,409.2 64.8,409.5 66.8,409.5 68.8,410.0 70.8,411.1 72.8,411.1 74.8,408.5 76.8,411.8 78.8,409.8 80.8,409.8 82.8,411.9 84.8,410.2 86.8,409.0 88.8,409.5 90.8,409.4 92.8,409.1 94.8,409.6 96.8,410.7 98.8,410.1 100.8,408.4 102.8,412.3 104.8,408.5 106.8,409.5 108.8,409.3 110.8,409.7 112.8,408.2 114.8,408.1 116.8,408.1 118.8,404.0 120.8,400.1 122.8,398.8 124.8,396.3 126.8,397.4 128.8,400.3 130.8,403.4 132.8,405.4 134.8,408.3 136.8,408.5 138.8,408.1 140.8,410.5 142.8,409.4 144.8,411.0 146.8,409.2 148.8,410.4 150.8,410.1 152.8,407.2 154.8,408.3 156.8,408.6 158.8,410.9 160.8,407.6 162.8,410.2 164.8,410.3 166.8,409.8 168.8,410.0 170.8,408.9 172.8,409.4 174.8,409.6 176.8,409.8 178.8,410.1 180.8,409.2 182.8,408.7 184.8,408.7 186.8,409.6 188.8,407.5 190.8,407.6 192.8,408.1 194.8,407.6 196.8,407.4 198.8,404.5 200.8,406.1 202.8,405.6 204.8,405.9 206.8,402.5 208.8,403.4 210.8,403.4 212.8,402.6 214.8,402.3 216.8,400.6 218.8,395.9 220.8,393.1 222.8,385.7 224.8,377.5 226.8,372.6 228.8,366.8 230.8,368.8 232.8,376.2 234.8,384.5 236.8,394.3 238.8,399.8 240.8,404.6 242.8,405.9 244.8,406.1 246.8,408.3 248.8,407.0 250.8,407.4 252.8,408.0 254.8,408.4 256.8,409.7 258.8,408.1 260.8,409.1 262.8,408.8 264.8,407.6 266.8,407.7 268.8,408.5 270.8,409.0 272.8,408.8 274.8,408.9 276.8,408.3 278.8,407.5 280.8,407.9 282.8,405.9 284.8,404.3 286.8,403.4 288.8,399.3 290.8,396.0 292.8,390.7 294.8,385.7 296.8,382.4 298.8,380.8 300.8,383.7 302.8,387.1 304.8,394.2 306.8,398.0 308.8,403.0 310.8,402.4 312.8,405.9 314.8,407.8 316.8,405.6 318.8,407.9 320.8,408.5 322.8,408.5 324.8,407.0 326.8,408.7 328.8,408.6 330.8,407.6 332.8,409.2 334.8,408.5 336.8,408.7 338.8,408.4 340.8,409.4 342.8,409.1 344.8,410.2 346.8,409.5 348.8,408.3 350.8,408.6 352.8,409.6 354.8,408.3 356.8,408.9 358.8,409.0 360.8,408.3 362.8,406.2 364.8,408.5 366.8,408.5 368.8,408.4 370.8,407.7 372.8,409.7 374.8,408.5 376.8,408.1 378.8,408.1 380.8,409.2 382.8,407.7 384.8,407.8 386.8,410.6 388.8,409.9 390.8,409.5 392.8,409.8 394.8,409.0 396.8,406.8 398.8,409.6 400.8,409.7 402.8,409.0 404.8,406.6 406.8,409.7 408.8,409.8 410.8,408.0 412.8,408.6 414.8,409.2 416.8,408.3 418.8,409.4 420.8,408.3 422.8,408.9 424.8,408.2 426.8,406.7 428.8,407.1 430.8,411.1 432.8,408.3 434.8,409.3 436.8,409.1 438.8,409.7 440.8,408.6 442.8,407.5 444.8,408.1 446.8,406.3 448.8,408.0 450.8,409.2 452.8,406.2 454.8,408.6 456.8,409.3 458.8,409.9 460.8,407.8 462.8,408.1 464.8,407.0 466.8,407.7 468.8,409.1 470.8,410.5 472.8,407.2 474.8,409.6 476.8,408.5 478.8,407.8 480.8,410.5 482.8,406.0 484.8,408.5 486.8,408.9 488.8,410.9 490.8,410.5 492.8,410.9 494.8,408.8 496.8,409.6 498.8,409.9 500.8,409.0 502.8,408.8 504.8,408.2 506.8,407.9 508.8,407.0 510.8,410.1 512.8,407.7 514.8,406.2 516.8,408.5 518.8,408.3 520.8,408.6 522.8,410.2 524.8,408.4 526.8,408.3 528.8,407.8 530.8,408.5 532.8,408.1 534.8,408.8 536.8,411.6 538.8,408.9 540.8,407.6 542.8,410.2 544.8,409.1 546.8,408.9 548.8,408.6 550.8,408.3 552.8,407.5 554.8,407.4 556.8,406.2 558.8,406.2 560.8,404.8 562.8,406.2 564.8,406.4 566.8,408.6 568.8,408.9 570.8,407.9 572.8,409.1 574.8,411.0 576.8,409.6 578.8,407.3 580.8,408.2 582.8,408.8 584.8,408.1 586.8,408.6 588.8,409.5 590.8,408.7 592.8,407.4 594.8,409.2 596.8,408.5 598.8,408.6 600.8,407.9 602.8,406.9 604.8,407.0 606.8,407.7 608.8,406.9 610.8,405.4 612.8,409.2 614.8,407.1 616.8,407.6 618.8,408.9 620.8,406.1 622.8,409.8 624.8,407.7 626.8,409.0 628.8,407.9 630.8,408.6 632.8,408.4 634.8,408.3 636.8,406.5 638.8,406.8 640.8,408.1 642.8,409.5 644.8,407.6 646.8,408.7 648.8,408.4 650.8,408.8 652.8,409.3 654.8,407.0 656.8,408.7 658.8,408.3 660.8,408.2 662.8,407.7 664.8,407.8 666.8,407.6 668.8,407.5 670.8,411.0 672.8,410.2 674.8,408.5 676.8,409.2 678.8,407.5 680.8,405.7 682.8,406.6 684.8,408.4 686.8,409.7 688.8,408.2 690.8,407.2 692.8,407.9 694.8,407.3 696.8,406.9 698.8,408.1 700.8,408.0 702.8,407.7 704.8,407.6 706.8,407.5 708.8,408.5 710.8,409.4 712.8,407.6 714.8,409.7 716.8,405.5 718.8,406.9 720.8,404.9 722.8,405.1 724.8,404.5 726.8,404.1 728.8,404.1 730.8,402.2 732.8,402.0 734.8,403.8 736.8,405.2 738.8,405.3 740.8,407.7 742.8,409.1 744.8,406.6 746.8,408.7 748.8,409.6 750.8,406.9 752.8,409.1 754.8,408.7 756.8,407.5 758.8,410.2 760.8,409.1 762.8,408.4 764.8,409.2 766.8,409.4 768.8,409.5 770.8,409.3 772.8,409.1 774.8,407.6 776.8,408.3 778.8,408.8 780.8,406.0 782.8,410.8 784.8,408.3 786.8,407.7 788.8,406.9 790.8,408.9 792.8,408.7 794.8,408.1 796.8,408.3 798.8,407.8 800.8,407.9 802.8,408.5 804.8,407.9 806.8,409.1 808.8,408.3 810.8,408.5 812.8,408.7 814.8,409.7 816.8,409.1 818.8,408.9 820.8,408.7 822.8,408.2"/>
<polyline fill="none" stroke="#0000ff" stroke-width="3.7" stroke-linejoin="round" stroke-linecap="round" points="56.8,456.5 58.8,459.1 60.8,458.3 62.8,456.7 64.8,458.6 66.8,459.8 68.8,458.0 70.8,458.3 72.8,457.4 74.8,457.0 76.8,458.5 78.8,460.4 80.8,457.3 82.8,457.2 84.8,458.1 86.8,457.1 88.8,458.2 90.8,458.3 92.8,456.6 94.8,456.5 96.8,457.5 98.8,458.4 100.8,457.8 102.8,458.7 104.8,456.1 106.8,457.8 108.8,456.6 110.8,457.0 112.8,456.8 114.8,454.7 116.8,454.0 118.8,451.0 120.8,449.7 122.8,445.7 124.8,444.2 126.8,444.9 128.8,446.1 130.8,450.6 132.8,451.5 134.8,455.0 136.8,455.7 138.8,455.1 140.8,456.2 142.8,455.9 144.8,456.6 146.8,456.8 148.8,459.0 150.8,457.0 152.8,459.1 154.8,457.9 156.8,456.2 158.8,455.1 160.8,458.0 162.8,455.3 164.8,457.9 166.8,458.2 168.8,457.5 170.8,456.9 172.8,456.9 174.8,457.4 176.8,456.8 178.8,456.6 180.8,456.8 182.8,458.3 184.8,456.6 186.8,457.6 188.8,456.2 190.8,456.5 192.8,455.8 194.8,456.9 196.8,457.6 198.8,457.2 200.8,456.3 202.8,457.3 204.8,456.3 206.8,456.9 208.8,456.6 210.8,456.6 212.8,453.1 214.8,453.2 216.8,453.1 218.8,448.9 220.8,446.5 222.8,438.8 224.8,434.2 226.8,434.9 228.8,436.7 230.8,443.0 232.8,447.0 234.8,450.7 236.8,454.6 238.8,454.7 240.8,455.8 242.8,456.1 244.8,456.5 246.8,457.6 248.8,456.4 250.8,457.2 252.8,456.5 254.8,457.9 256.8,454.5 258.8,457.0 260.8,457.4 262.8,456.1 264.8,458.0 266.8,457.1 268.8,458.1 270.8,457.6 272.8,457.2 274.8,456.3 276.8,455.3 278.8,456.1 280.8,455.7 282.8,456.0 284.8,454.8 286.8,457.3 288.8,450.9 290.8,450.5 292.8,444.5 294.8,439.8 296.8,437.0 298.8,434.9 300.8,436.3 302.8,442.6 304.8,446.9 306.8,449.0 308.8,453.8 310.8,454.1 312.8,455.2 314.8,456.7 316.8,456.7 318.8,456.2 320.8,458.6 322.8,457.1 324.8,456.2 326.8,457.1 328.8,456.9 330.8,455.0 332.8,455.7 334.8,455.9 336.8,459.3 338.8,457.2 340.8,457.1 342.8,456.9 344.8,458.4 346.8,457.4 348.8,458.9 350.8,458.0 352.8,458.7 354.8,456.9 356.8,457.2 358.8,456.5 360.8,456.8 362.8,455.3 364.8,456.5 366.8,456.2 368.8,456.5 370.8,458.4 372.8,457.5 374.8,458.5 376.8,458.2 378.8,458.3 380.8,458.5 382.8,456.8 384.8,458.1 386.8,457.0 388.8,456.7 390.8,458.4 392.8,459.2 394.8,456.3 396.8,459.0 398.8,458.2 400.8,456.7 402.8,457.8 404.8,458.0 406.8,458.0 408.8,457.3 410.8,456.4 412.8,457.7 414.8,458.5 416.8,458.5 418.8,458.3 420.8,458.7 422.8,456.7 424.8,457.6 426.8,457.9 428.8,458.5 430.8,457.7 432.8,458.0 434.8,457.6 436.8,459.4 438.8,455.2 440.8,457.3 442.8,459.7 444.8,457.6 446.8,455.6 448.8,457.5 450.8,456.0 452.8,456.8 454.8,457.6 456.8,459.0 458.8,457.8 460.8,457.9 462.8,458.3 464.8,457.4 466.8,456.4 468.8,457.2 470.8,457.6 472.8,457.1 474.8,456.7 476.8,457.0 478.8,456.0 480.8,456.4 482.8,457.4 484.8,457.1 486.8,457.5 488.8,458.9 490.8,457.8 492.8,457.4 494.8,456.3 496.8,456.4 498.8,457.7 500.8,456.5 502.8,457.8 504.8,456.4 506.8,457.6 508.8,457.5 510.8,458.6 512.8,457.3 514.8,457.4 516.8,458.1 518.8,458.0 520.8,459.6 522.8,457.8 524.8,457.6 526.8,457.7 528.8,458.3 530.8,457.9 532.8,458.2 534.8,456.1 536.8,459.6 538.8,459.1 540.8,457.3 542.8,456.2 544.8,457.5 546.8,457.8 548.8,455.3 550.8,457.4 552.8,455.9 554.8,457.6 556.8,458.2 558.8,457.5 560.8,454.6 562.8,457.0 564.8,456.5 566.8,455.6 568.8,456.8 570.8,458.2 572.8,456.8 574.8,457.3 576.8,456.8 578.8,458.5 580.8,455.3 582.8,458.7 584.8,456.4 586.8,458.2 588.8,455.7 590.8,456.4 592.8,456.7 594.8,458.1 596.8,455.7 598.8,457.9 600.8,456.8 602.8,458.7 604.8,457.3 606.8,458.1 608.8,457.5 610.8,459.4 612.8,457.3 614.8,457.6 616.8,459.5 618.8,457.7 620.8,458.2 622.8,456.9 624.8,457.8 626.8,455.4 628.8,457.7 630.8,456.9 632.8,456.1 634.8,456.1 636.8,458.5 638.8,457.8 640.8,455.8 642.8,459.0 644.8,456.5 646.8,456.9 648.8,457.5 650.8,456.3 652.8,455.9 654.8,456.8 656.8,458.7 658.8,458.5 660.8,456.1 662.8,458.8 664.8,457.6 666.8,458.1 668.8,457.7 670.8,458.0 672.8,456.6 674.8,456.6 676.8,456.7 678.8,457.0 680.8,457.9 682.8,456.2 684.8,458.9 686.8,456.8 688.8,456.9 690.8,458.2 692.8,458.0 694.8,457.3 696.8,456.6 698.8,456.8 700.8,456.3 702.8,459.0 704.8,458.9 706.8,459.5 708.8,457.9 710.8,457.5 712.8,457.6 714.8,457.4 716.8,455.8 718.8,456.0 720.8,457.3 722.8,453.0 724.8,452.5 726.8,452.3 728.8,453.5 730.8,453.6 732.8,452.4 734.8,454.0 736.8,454.0 738.8,455.1 740.8,454.9 742.8,455.9 744.8,456.3 746.8,457.6 748.8,458.8 750.8,455.0 752.8,457.3 754.8,456.9 756.8,457.9 758.8,458.1 760.8,457.9 762.8,458.0 764.8,456.3 766.8,455.7 768.8,459.0 770.8,458.6 772.8,456.5 774.8,458.7 776.8,458.2 778.8,455.1 780.8,458.3 782.8,456.5 784.8,458.6 786.8,456.8 788.8,456.7 790.8,455.8 792.8,457.1 794.8,458.2 796.8,456.5 798.8,455.3 800.8,459.1 802.8,458.8 804.8,457.7 806.8,456.5 808.8,455.8 810.8,455.4 812.8,457.5 814.8,458.3 816.8,456.0 818.8,457.1 820.8,456.9 822.8,456.9"/>
<polyline fill="none" stroke="#ff0000" stroke-width="3.7" stroke-linejoin="round" stroke-linecap="round" points="56.8,510.2 58.8,513.3 60.8,510.8 62.8,511.4 64.8,511.0 66.8,511.0 68.8,511.5 70.8,511.2 72.8,512.0 74.8,510.2 76.8,509.8 78.8,513.1 80.8,511.1 82.8,512.0 84.8,512.5 86.8,512.0 88.8,511.6 90.8,510.2 92.8,510.3 94.8,512.7 96.8,512.3 98.8,512.1 100.8,509.8 102.8,509.3 104.8,510.2 106.8,510.0 108.8,511.2 110.8,509.9 112.8,512.2 114.8,509.7 116.8,509.0 118.8,509.1 120.8,506.7 122.8,503.1 124.8,502.4 126.8,501.9 128.8,499.1 130.8,501.7 132.8,503.2 134.8,504.5 136.8,508.5 138.8,509.5 140.8,510.2 142.8,510.2 144.8,508.1 146.8,510.3 148.8,509.9 150.8,509.6 152.8,509.8 154.8,511.7 156.8,510.7 158.8,512.9 160.8,511.5 162.8,509.2 164.8,511.9 166.8,512.2 168.8,510.9 170.8,509.6 172.8,512.5 174.8,509.4 176.8,510.5 178.8,508.7 180.8,509.2 182.8,508.7 184.8,511.4 186.8,511.4 188.8,509.8 190.8,509.0 192.8,510.3 194.8,510.8 196.8,508.9 198.8,509.4 200.8,510.4 202.8,511.1 204.8,510.4 206.8,510.6 208.8,508.8 210.8,507.5 212.8,510.0 214.8,508.7 216.8,509.2 218.8,508.3 220.8,508.0 222.8,505.1 224.8,505.1 226.8,501.7 228.8,501.1 230.8,501.8 232.8,504.0 234.8,505.7 236.8,505.6 238.8,508.1 240.8,511.4 242.8,510.5 244.8,510.9 246.8,510.9 248.8,509.9 250.8,509.9 252.8,509.8 254.8,511.5 256.8,510.7 258.8,512.0 260.8,510.7 262.8,512.1 264.8,510.6 266.8,509.0 268.8,511.8 270.8,510.4 272.8,511.2 274.8,510.2 276.8,509.7 278.8,510.1 280.8,508.8 282.8,508.6 284.8,508.7 286.8,508.6 288.8,506.8 290.8,506.3 292.8,503.9 294.8,501.9 296.8,497.7 298.8,492.9 300.8,493.5 302.8,494.9 304.8,499.3 306.8,502.6 308.8,505.0 310.8,507.4 312.8,506.9 314.8,509.3 316.8,508.8 318.8,508.1 320.8,508.9 322.8,509.9 324.8,508.7 326.8,509.9 328.8,510.0 330.8,511.1 332.8,508.5 334.8,509.4 336.8,510.0 338.8,511.0 340.8,509.7 342.8,510.2 344.8,508.0 346.8,508.9 348.8,511.1 350.8,509.2 352.8,511.6 354.8,508.8 356.8,509.2 358.8,508.0 360.8,510.2 362.8,509.9 364.8,511.6 366.8,509.8 368.8,509.4 370.8,508.3 372.8,509.6 374.8,510.7 376.8,510.5 378.8,511.0 380.8,510.6 382.8,509.7 384.8,510.3 386.8,509.9 388.8,508.4 390.8,511.4 392.8,510.0 394.8,508.6 396.8,510.0 398.8,509.9 400.8,510.6 402.8,511.0 404.8,506.6 406.8,510.1 408.8,511.0 410.8,508.5 412.8,507.6 414.8,509.7 416.8,509.7 418.8,509.8 420.8,508.4 422.8,509.0 424.8,509.7 426.8,510.3 428.8,511.8 430.8,510.0 432.8,509.1 434.8,507.4 436.8,510.9 438.8,509.7 440.8,509.8 442.8,508.9 444.8,510.6 446.8,508.1 448.8,510.0 450.8,510.0 452.8,510.2 454.8,511.2 456.8,509.9 458.8,510.1 460.8,510.9 462.8,508.6 464.8,509.9 466.8,510.2 468.8,511.0 470.8,509.1 472.8,510.7 474.8,510.2 476.8,508.2 478.8,508.2 480.8,508.3 482.8,509.9 484.8,510.0 486.8,510.5 488.8,510.6 490.8,509.3 492.8,511.1 494.8,510.9 496.8,510.7 498.8,510.8 500.8,509.1 502.8,510.7 504.8,509.3 506.8,509.0 508.8,509.8 510.8,510.2 512.8,510.0 514.8,509.7 516.8,509.1 518.8,510.3 520.8,509.4 522.8,508.7 524.8,510.3 526.8,511.6 528.8,509.7 530.8,509.0 532.8,511.4 534.8,511.7 536.8,509.7 538.8,509.9 540.8,510.4 542.8,513.2 544.8,510.4 546.8,511.4 548.8,510.9 550.8,508.6 552.8,509.2 554.8,509.1 556.8,510.7 558.8,510.3 560.8,511.9 562.8,509.8 564.8,510.4 566.8,510.1 568.8,510.2 570.8,512.3 572.8,510.3 574.8,511.5 576.8,511.4 578.8,509.6 580.8,510.9 582.8,509.9 584.8,510.4 586.8,510.5 588.8,510.3 590.8,509.8 592.8,511.9 594.8,510.0 596.8,511.0 598.8,512.0 600.8,511.1 602.8,511.5 604.8,512.0 606.8,511.7 608.8,512.4 610.8,509.3 612.8,512.6 614.8,510.6 616.8,508.8 618.8,509.8 620.8,509.0 622.8,510.4 624.8,509.0 626.8,509.5 628.8,510.9 630.8,510.8 632.8,509.8 634.8,510.4 636.8,510.5 638.8,510.7 640.8,510.6 642.8,510.4 644.8,511.5 646.8,509.0 648.8,510.2 650.8,510.8 652.8,510.3 654.8,510.2 656.8,510.4 658.8,511.0 660.8,511.9 662.8,510.5 664.8,510.3 666.8,510.9 668.8,510.3 670.8,508.7 672.8,510.9 674.8,510.4 676.8,510.3 678.8,511.6 680.8,511.1 682.8,510.3 684.8,508.6 686.8,508.9 688.8,510.5 690.8,510.3 692.8,510.7 694.8,510.5 696.8,509.9 698.8,509.2 700.8,509.4 702.8,510.4 704.8,509.4 706.8,511.3 708.8,509.2 710.8,508.7 712.8,510.3 714.8,508.6 716.8,512.0 718.8,509.4 720.8,510.3 722.8,510.0 724.8,509.1 726.8,507.6 728.8,506.6 730.8,508.2 732.8,507.3 734.8,508.0 736.8,504.7 738.8,507.7 740.8,508.2 742.8,510.1 744.8,509.4 746.8,511.0 748.8,511.4 750.8,511.3 752.8,512.2 754.8,510.6 756.8,512.3 758.8,510.0 760.8,512.3 762.8,507.9 764.8,510.6 766.8,509.8 768.8,510.6 770.8,511.6 772.8,511.3 774.8,510.6 776.8,512.2 778.8,509.0 780.8,509.7 782.8,512.0 784.8,510.8 786.8,508.4 788.8,510.8 790.8,509.3 792.8,512.0 794.8,511.7 796.8,510.0 798.8,511.9 800.8,509.8 802.8,511.6 804.8,511.2 806.8,510.5 808.8,509.2 810.8,510.4 812.8,508.3 814.8,510.1 816.8,508.9 818.8,512.0 820.8,509.8 822.8,508.4"/>
<polyline fill="none" stroke="#000000" stroke-width="3.7" stroke-linejoin="round" stroke-linecap="round" points="56.8,586.7 58.8,586.0 60.8,585.6 62.8,586.6 64.8,586.8 66.8,588.3 68.8,586.5 70.8,588.0 72.8,588.1 74.8,585.1 76.8,587.3 78.8,587.2 80.8,587.4 82.8,586.0 84.8,587.0 86.8,585.6 88.8,586.0 90.8,586.1 92.8,587.9 94.8,585.7 96.8,586.7 98.8,585.5 100.8,584.6 102.8,585.3 104.8,585.5 106.8,584.1 108.8,585.3 110.8,583.7 112.8,583.1 114.8,583.3 116.8,580.8 118.8,576.0 120.8,568.9 122.8,562.0 124.8,553.9 126.8,548.8 128.8,552.2 130.8,558.1 132.8,568.8 134.8,575.8 136.8,580.2 138.8,581.7 140.8,583.5 142.8,584.1 144.8,585.4 146.8,584.7 148.8,584.8 150.8,584.0 152.8,585.6 154.8,586.1 156.8,584.6 158.8,585.8 160.8,585.6 162.8,585.4 164.8,584.3 166.8,587.3 168.8,583.6 170.8,585.8 172.8,585.0 174.8,586.5 176.8,584.9 178.8,585.3 180.8,585.8 182.8,585.6 184.8,584.5 186.8,585.6 188.8,585.2 190.8,585.6 192.8,583.8 194.8,584.0 196.8,583.3 198.8,582.3 200.8,582.9 202.8,582.6 204.8,583.2 206.8,581.0 208.8,581.3 210.8,581.8 212.8,580.3 214.8,580.2 216.8,579.6 218.8,577.2 220.8,573.8 222.8,570.8 224.8,563.5 226.8,557.9 228.8,555.3 230.8,560.5 232.8,568.3 234.8,572.7 236.8,577.9 238.8,582.9 240.8,584.8 242.8,585.6 244.8,583.8 246.8,585.1 248.8,583.9 250.8,585.2 252.8,584.3 254.8,584.9 256.8,586.0 258.8,585.0 260.8,584.3 262.8,584.6 264.8,584.7 266.8,583.9 268.8,584.5 270.8,584.8 272.8,585.7 274.8,581.9 276.8,582.6 278.8,582.4 280.8,584.1 282.8,585.2 284.8,582.0 286.8,580.0 288.8,577.4 290.8,567.6 292.8,560.6 294.8,546.4 296.8,538.9 298.8,532.8 300.8,535.6 302.8,545.9 304.8,556.5 306.8,568.3 308.8,574.5 310.8,579.3 312.8,583.8 314.8,582.0 316.8,584.0 318.8,582.6 320.8,584.9 322.8,584.8 324.8,584.1 326.8,585.1 328.8,585.8 330.8,585.6 332.8,584.3 334.8,584.3 336.8,585.5 338.8,583.0 340.8,583.9 342.8,585.1 344.8,585.2 346.8,586.4 348.8,586.3 350.8,584.8 352.8,584.9 354.8,583.2 356.8,584.2 358.8,584.6 360.8,584.1 362.8,584.4 364.8,584.9 366.8,583.3 368.8,583.6 370.8,582.5 372.8,585.4 374.8,583.3 376.8,582.7 378.8,585.2 380.8,584.3 382.8,585.5 384.8,584.2 386.8,586.7 388.8,585.4 390.8,584.8 392.8,584.8 394.8,584.4 396.8,585.3 398.8,586.3 400.8,583.8 402.8,583.0 404.8,584.6 406.8,585.1 408.8,582.6 410.8,583.4 412.8,583.2 414.8,584.8 416.8,584.8 418.8,583.6 420.8,583.2 422.8,585.0 424.8,582.3 426.8,585.0 428.8,584.2 430.8,586.2 432.8,585.3 434.8,583.8 436.8,584.1 438.8,584.1 440.8,583.7 442.8,584.5 444.8,585.3 446.8,582.9 448.8,584.2 450.8,585.9 452.8,585.2 454.8,583.6 456.8,583.6 458.8,583.5 460.8,582.8 462.8,585.4 464.8,584.4 466.8,583.6 468.8,582.9 470.8,583.9 472.8,583.8 474.8,586.0 476.8,583.9 478.8,584.5 480.8,585.6 482.8,585.3 484.8,584.5 486.8,582.7 488.8,586.3 490.8,585.5 492.8,584.5 494.8,584.8 496.8,584.0 498.8,584.1 500.8,583.5 502.8,585.3 504.8,585.2 506.8,584.7 508.8,585.1 510.8,584.8 512.8,584.2 514.8,583.2 516.8,584.6 518.8,585.1 520.8,584.5 522.8,585.1 524.8,583.3 526.8,583.0 528.8,585.3 530.8,583.7 532.8,584.6 534.8,584.4 536.8,584.7 538.8,584.4 540.8,584.1 542.8,582.8 544.8,586.4 546.8,584.7 548.8,582.5 550.8,583.5 552.8,583.3 554.8,583.7 556.8,582.0 558.8,585.1 560.8,586.1 562.8,584.2 564.8,585.1 566.8,585.0 568.8,583.1 570.8,585.5 572.8,582.6 574.8,583.8 576.8,584.1 578.8,585.8 580.8,584.8 582.8,584.6 584.8,584.0 586.8,584.9 588.8,584.9 590.8,585.5 592.8,586.2 594.8,585.5 596.8,584.8 598.8,584.6 600.8,586.3 602.8,584.9 604.8,584.7 606.8,586.4 608.8,586.2 610.8,585.3 612.8,584.7 614.8,584.2 616.8,586.0 618.8,584.5 620.8,586.0 622.8,584.4 624.8,585.3 626.8,585.7 628.8,585.5 630.8,585.6 632.8,585.9 634.8,584.3 636.8,584.3 638.8,585.2 640.8,587.1 642.8,585.1 644.8,584.3 646.8,584.6 648.8,585.2 650.8,586.3 652.8,584.6 654.8,585.7 656.8,585.3 658.8,584.7 660.8,584.0 662.8,584.7 664.8,584.1 666.8,585.3 668.8,582.9 670.8,585.8 672.8,585.5 674.8,585.4 676.8,586.3 678.8,585.5 680.8,583.3 682.8,585.0 684.8,585.3 686.8,584.2 688.8,583.7 690.8,585.2 692.8,585.2 694.8,584.4 696.8,584.6 698.8,584.4 700.8,584.4 702.8,585.0 704.8,586.1 706.8,583.5 708.8,584.6 710.8,586.5 712.8,585.2 714.8,585.0 716.8,585.6 718.8,583.7 720.8,583.4 722.8,582.8 724.8,582.7 726.8,583.6 728.8,583.1 730.8,580.2 732.8,578.0 734.8,577.6 736.8,577.6 738.8,578.5 740.8,578.4 742.8,581.4 744.8,580.7 746.8,584.1 748.8,583.4 750.8,583.7 752.8,585.8 754.8,585.8 756.8,585.0 758.8,584.9 760.8,584.9 762.8,584.3 764.8,584.9 766.8,586.8 768.8,584.2 770.8,584.4 772.8,585.3 774.8,586.0 776.8,586.0 778.8,584.2 780.8,584.9 782.8,584.7 784.8,583.6 786.8,584.8 788.8,584.2 790.8,585.6 792.8,585.2 794.8,584.0 796.8,584.9 798.8,584.5 800.8,584.3 802.8,584.4 804.8,585.8 806.8,584.2 808.8,582.8 810.8,583.7 812.8,585.1 814.8,586.5 816.8,583.5 818.8,584.3 820.8,584.5 822.8,583.6"/>
<rect x="56.45" y="5.15" width="767.85" height="609.10" fill="none" stroke="#000" stroke-width="4.4"/>
<line x1="114.04" y1="614.25" x2="114.04" y2="607.5" stroke="#000" stroke-width="4.4" stroke-linecap="round"/>
<line x1="171.63" y1="614.25" x2="171.63" y2="601.5" stroke="#000" stroke-width="4.4" stroke-linecap="round"/>
<line x1="229.22" y1="614.25" x2="229.22" y2="607.5" stroke="#000" stroke-width="4.4" stroke-linecap="round"/>
<line x1="286.80" y1="614.25" x2="286.80" y2="601.5" stroke="#000" stroke-width="4.4" stroke-linecap="round"/>
<line x1="344.39" y1="614.25" x2="344.39" y2="607.5" stroke="#000" stroke-width="4.4" stroke-linecap="round"/>
<line x1="401.98" y1="614.25" x2="401.98" y2="601.5" stroke="#000" stroke-width="4.4" stroke-linecap="round"/>
<line x1="459.57" y1="614.25" x2="459.57" y2="607.5" stroke="#000" stroke-width="4.4" stroke-linecap="round"/>
<line x1="517.16" y1="614.25" x2="517.16" y2="601.5" stroke="#000" stroke-width="4.4" stroke-linecap="round"/>
<line x1="574.75" y1="614.25" x2="574.75" y2="607.5" stroke="#000" stroke-width="4.4" stroke-linecap="round"/>
<line x1="632.34" y1="614.25" x2="632.34" y2="601.5" stroke="#000" stroke-width="4.4" stroke-linecap="round"/>
<line x1="689.93" y1="614.25" x2="689.93" y2="607.5" stroke="#000" stroke-width="4.4" stroke-linecap="round"/>
<line x1="747.51" y1="614.25" x2="747.51" y2="601.5" stroke="#000" stroke-width="4.4" stroke-linecap="round"/>
<line x1="805.10" y1="614.25" x2="805.10" y2="607.5" stroke="#000" stroke-width="4.4" stroke-linecap="round"/>
<text x="56.45" y="656.5" font-size="38.2" font-weight="bold" text-anchor="middle">30</text>
<text x="171.63" y="656.5" font-size="38.2" font-weight="bold" text-anchor="middle">33</text>
<text x="286.80" y="656.5" font-size="38.2" font-weight="bold" text-anchor="middle">36</text>
<text x="401.98" y="656.5" font-size="38.2" font-weight="bold" text-anchor="middle">39</text>
<text x="517.16" y="656.5" font-size="38.2" font-weight="bold" text-anchor="middle">42</text>
<text x="632.34" y="656.5" font-size="38.2" font-weight="bold" text-anchor="middle">45</text>
<text x="747.51" y="656.5" font-size="38.2" font-weight="bold" text-anchor="middle">48</text>
<text x="814.6" y="85.9" font-size="29.3" font-weight="bold" text-anchor="end">Ni900</text>
<text x="816.4" y="152.9" font-size="29.3" font-weight="bold" text-anchor="end">Ni700</text>
<text x="813.8" y="207.2" font-size="29.3" font-weight="bold" text-anchor="end">60NZ900</text>
<text x="820.3" y="261.9" font-size="29.3" font-weight="bold" text-anchor="end">60NZ700</text>
<text x="821.1" y="305.8" font-size="29.3" font-weight="bold" text-anchor="end">40NZ900</text>
<text x="814.8" y="351.9" font-size="29.3" font-weight="bold" text-anchor="end">40NZ700</text>
<text x="812.2" y="396.5" font-size="29.3" font-weight="bold" text-anchor="end">20NZ900</text>
<text x="815.8" y="441.5" font-size="29.3" font-weight="bold" text-anchor="end">20NZ700</text>
<text x="809.7" y="495.0" font-size="29.3" font-weight="bold" text-anchor="end">Zn900</text>
<text x="819.3" y="559.8" font-size="29.3" font-weight="bold" text-anchor="end">Zn700</text>
<text transform="translate(346.0,81.7) rotate(-90)" font-size="14.6" font-weight="bold">(<tspan font-family="NanumGothic, &quot;Liberation Sans&quot;, sans-serif" font-weight="800" font-size="89%">1</tspan><tspan font-family="NanumGothic, &quot;Liberation Sans&quot;, sans-serif" font-weight="800" font-size="89%">1</tspan><tspan font-family="NanumGothic, &quot;Liberation Sans&quot;, sans-serif" font-weight="800" font-size="89%">1</tspan>) NiO</text>
<text transform="translate(575.0,70.4) rotate(-90)" font-size="14.1" font-weight="bold">(200) NiO</text>
<text transform="translate(116.3,582.8) rotate(-90)" font-size="14.6" font-weight="bold">(<tspan font-family="NanumGothic, &quot;Liberation Sans&quot;, sans-serif" font-weight="800" font-size="89%">1</tspan>00) ZnO</text>
<text transform="translate(224.1,572.3) rotate(-90)" font-size="14.6" font-weight="bold">(002) ZnO</text>
<text transform="translate(336.0,574.5) rotate(-90)" font-size="14.6" font-weight="bold">(<tspan font-family="NanumGothic, &quot;Liberation Sans&quot;, sans-serif" font-weight="800" font-size="89%">1</tspan>0<tspan font-family="NanumGothic, &quot;Liberation Sans&quot;, sans-serif" font-weight="800" font-size="89%">1</tspan>) ZnO</text>
<text transform="translate(723.5,573.4) rotate(-90)" font-size="14.6" font-weight="bold">(<tspan font-family="NanumGothic, &quot;Liberation Sans&quot;, sans-serif" font-weight="800" font-size="89%">1</tspan>02) ZnO</text>
<text x="66" y="60" font-size="52" font-weight="bold">(a)</text>
<text transform="translate(38,533) rotate(-90)" font-size="51.9" font-weight="bold">Intensity (arb.unit)</text>
<text x="313" y="705.3" font-size="41.5" font-weight="bold">2<tspan font-family="&quot;Liberation Serif&quot;, serif" dy="1.2" font-size="42.5" stroke-width="0">θ</tspan><tspan font-family="&quot;Liberation Serif&quot;, serif" font-weight="normal" stroke-width="0.3" dy="-1.2"> (</tspan>Degrees)</text>
<polyline fill="none" stroke="#000" stroke-width="4" stroke-linejoin="round" stroke-linecap="round" points="1057.60,545.22 1087.57,532.56 1177.48,456.60 1297.36,367.98 1417.24,279.36 1657.00,76.80"/>
<rect x="1051.10" y="538.72" width="13" height="13" fill="#ff0000"/>
<rect x="1081.07" y="526.06" width="13" height="13" fill="#ff0000"/>
<rect x="1170.98" y="450.10" width="13" height="13" fill="#ff0000"/>
<rect x="1290.86" y="361.48" width="13" height="13" fill="#ff0000"/>
<rect x="1410.74" y="272.86" width="13" height="13" fill="#ff0000"/>
<rect x="1650.50" y="70.30" width="13" height="13" fill="#ff0000"/>
<rect x="998.3" y="13.5" width="718.50" height="569.70" fill="none" stroke="#000" stroke-width="4.2"/>
<line x1="1057.60" y1="583.2" x2="1057.60" y2="571.8" stroke="#000" stroke-width="4.2" stroke-linecap="round"/>
<line x1="1117.54" y1="583.2" x2="1117.54" y2="577.8" stroke="#000" stroke-width="4.2" stroke-linecap="round"/>
<line x1="1177.48" y1="583.2" x2="1177.48" y2="571.8" stroke="#000" stroke-width="4.2" stroke-linecap="round"/>
<line x1="1237.42" y1="583.2" x2="1237.42" y2="577.8" stroke="#000" stroke-width="4.2" stroke-linecap="round"/>
<line x1="1297.36" y1="583.2" x2="1297.36" y2="571.8" stroke="#000" stroke-width="4.2" stroke-linecap="round"/>
<line x1="1357.30" y1="583.2" x2="1357.30" y2="577.8" stroke="#000" stroke-width="4.2" stroke-linecap="round"/>
<line x1="1417.24" y1="583.2" x2="1417.24" y2="571.8" stroke="#000" stroke-width="4.2" stroke-linecap="round"/>
<line x1="1477.18" y1="583.2" x2="1477.18" y2="577.8" stroke="#000" stroke-width="4.2" stroke-linecap="round"/>
<line x1="1537.12" y1="583.2" x2="1537.12" y2="571.8" stroke="#000" stroke-width="4.2" stroke-linecap="round"/>
<line x1="1597.06" y1="583.2" x2="1597.06" y2="577.8" stroke="#000" stroke-width="4.2" stroke-linecap="round"/>
<line x1="1657.00" y1="583.2" x2="1657.00" y2="571.8" stroke="#000" stroke-width="4.2" stroke-linecap="round"/>
<text x="1057.60" y="623.4" font-size="35" font-weight="bold" text-anchor="middle">0</text>
<text x="1177.48" y="623.4" font-size="35" font-weight="bold" text-anchor="middle">20</text>
<text x="1297.36" y="623.4" font-size="35" font-weight="bold" text-anchor="middle">40</text>
<text x="1417.24" y="623.4" font-size="35" font-weight="bold" text-anchor="middle">60</text>
<text x="1537.12" y="623.4" font-size="35" font-weight="bold" text-anchor="middle">80</text>
<text x="1657.00" y="623.4" font-size="35" font-weight="bold" text-anchor="middle"><tspan font-family="NanumGothic, &quot;Liberation Sans&quot;, sans-serif" font-weight="800" font-size="89%">1</tspan>00</text>
<line x1="998.3" y1="551.55" x2="1004" y2="551.55" stroke="#000" stroke-width="4.2" stroke-linecap="round"/>
<line x1="998.3" y1="519.90" x2="1010.0" y2="519.90" stroke="#000" stroke-width="4.2" stroke-linecap="round"/>
<line x1="998.3" y1="488.25" x2="1004" y2="488.25" stroke="#000" stroke-width="4.2" stroke-linecap="round"/>
<line x1="998.3" y1="456.60" x2="1010.0" y2="456.60" stroke="#000" stroke-width="4.2" stroke-linecap="round"/>
<line x1="998.3" y1="424.95" x2="1004" y2="424.95" stroke="#000" stroke-width="4.2" stroke-linecap="round"/>
<line x1="998.3" y1="393.30" x2="1010.0" y2="393.30" stroke="#000" stroke-width="4.2" stroke-linecap="round"/>
<line x1="998.3" y1="361.65" x2="1004" y2="361.65" stroke="#000" stroke-width="4.2" stroke-linecap="round"/>
<line x1="998.3" y1="330.00" x2="1010.0" y2="330.00" stroke="#000" stroke-width="4.2" stroke-linecap="round"/>
<line x1="998.3" y1="298.35" x2="1004" y2="298.35" stroke="#000" stroke-width="4.2" stroke-linecap="round"/>
<line x1="998.3" y1="266.70" x2="1010.0" y2="266.70" stroke="#000" stroke-width="4.2" stroke-linecap="round"/>
<line x1="998.3" y1="235.05" x2="1004" y2="235.05" stroke="#000" stroke-width="4.2" stroke-linecap="round"/>
<line x1="998.3" y1="203.40" x2="1010.0" y2="203.40" stroke="#000" stroke-width="4.2" stroke-linecap="round"/>
<line x1="998.3" y1="171.75" x2="1004" y2="171.75" stroke="#000" stroke-width="4.2" stroke-linecap="round"/>
<line x1="998.3" y1="140.10" x2="1010.0" y2="140.10" stroke="#000" stroke-width="4.2" stroke-linecap="round"/>
<line x1="998.3" y1="108.45" x2="1004" y2="108.45" stroke="#000" stroke-width="4.2" stroke-linecap="round"/>
<line x1="998.3" y1="76.80" x2="1010.0" y2="76.80" stroke="#000" stroke-width="4.2" stroke-linecap="round"/>
<line x1="998.3" y1="45.15" x2="1004" y2="45.15" stroke="#000" stroke-width="4.2" stroke-linecap="round"/>
<text x="985.8" y="593.20" font-size="33" font-weight="bold" text-anchor="end">0.705</text>
<text x="985.8" y="529.90" font-size="33" font-weight="bold" text-anchor="end">0.7<tspan font-family="NanumGothic, &quot;Liberation Sans&quot;, sans-serif" font-weight="800" font-size="89%">1</tspan>0</text>
<text x="985.8" y="466.60" font-size="33" font-weight="bold" text-anchor="end">0.7<tspan font-family="NanumGothic, &quot;Liberation Sans&quot;, sans-serif" font-weight="800" font-size="89%">1</tspan>5</text>
<text x="985.8" y="403.30" font-size="33" font-weight="bold" text-anchor="end">0.720</text>
<text x="985.8" y="340.00" font-size="33" font-weight="bold" text-anchor="end">0.725</text>
<text x="985.8" y="276.70" font-size="33" font-weight="bold" text-anchor="end">0.730</text>
<text x="985.8" y="213.40" font-size="33" font-weight="bold" text-anchor="end">0.735</text>
<text x="985.8" y="150.10" font-size="33" font-weight="bold" text-anchor="end">0.740</text>
<text x="985.8" y="86.80" font-size="33" font-weight="bold" text-anchor="end">0.745</text>
<text x="985.8" y="23.50" font-size="33" font-weight="bold" text-anchor="end">0.750</text>
<rect x="1397.4" y="25.6" width="247.4" height="37.3" fill="none" stroke="#333" stroke-width="1.3"/>
<line x1="1415.9" y1="46.9" x2="1439.7" y2="46.9" stroke="#000" stroke-width="4.2" stroke-linecap="round"/>
<line x1="1458.6" y1="46.9" x2="1482.9" y2="46.9" stroke="#000" stroke-width="4.2" stroke-linecap="round"/>
<rect x="1442.8" y="40.4" width="13" height="12.8" fill="#ff0000"/>
<text x="1492.3" y="58.1" font-size="30.4" stroke="#000" stroke-width="0.4">GTF factor</text>
<text x="1026" y="66" font-size="48.5" font-weight="bold">(b)</text>
<text x="1078" y="689.2" font-size="49.7" font-weight="bold">Ni doping percentage</text>
<text transform="translate(878,576.8) rotate(-90)" font-size="48.7" font-weight="bold">Goldschmidt's Factor</text>
</svg></body></html>
